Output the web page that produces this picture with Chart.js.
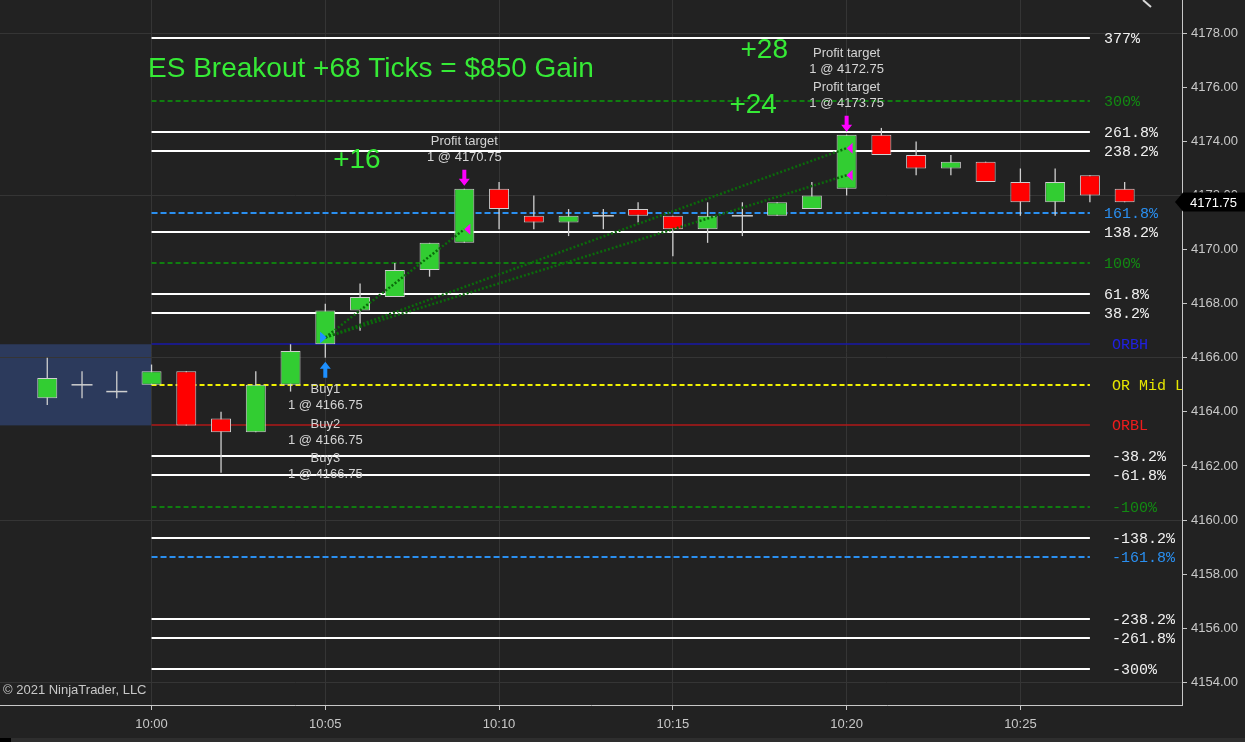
<!DOCTYPE html>
<html>
<head>
<meta charset="utf-8">
<title>ES Breakout</title>
<script src="https://cdn.jsdelivr.net/npm/chart.js@4.4.1/dist/chart.umd.min.js"></script>
<style>
  html, body { margin: 0; padding: 0; background: #222222; overflow: hidden; }
  #wrap { width: 1245px; height: 742px; position: relative; }
</style>
</head>
<body>
<div id="wrap"><canvas id="chart" width="1245" height="742"></canvas></div>
<script>
// 1 minutlik shamlar (9:57 - 10:28)
const times  = ['9:57', '9:58', '9:59', '10:00', '10:01', '10:02', '10:03', '10:04', '10:05', '10:06',
                '10:07', '10:08', '10:09', '10:10', '10:11', '10:12', '10:13', '10:14', '10:15', '10:16',
                '10:17', '10:18', '10:19', '10:20', '10:21', '10:22', '10:23', '10:24', '10:25', '10:26',
                '10:27', '10:28'];
const opens  = [4164.5, 4165, 4164.75, 4165, 4165.5, 4163.75, 4163.25, 4165, 4166.5, 4167.75,
                4168.25, 4169.25, 4170.25, 4172.25, 4171.25, 4171, 4171.25, 4171.5, 4171.25, 4170.75,
                4171.25, 4171.25, 4171.5, 4172.25, 4174.25, 4173.5, 4173, 4173.25, 4172.5, 4171.75,
                4172.75, 4172.25];
const highs  = [4166, 4165.5, 4165.5, 4165.75, 4165.5, 4164, 4165.5, 4166.5, 4168, 4168.75,
                4169.5, 4170.25, 4172.25, 4172.5, 4172, 4171.5, 4171.5, 4171.75, 4171.25, 4171.75,
                4171.75, 4171.75, 4172.5, 4174.25, 4174.5, 4174, 4173.5, 4173.25, 4173, 4173,
                4172.75, 4172.5];
const lows   = [4164.25, 4164.5, 4164.5, 4165, 4163.5, 4161.75, 4163.25, 4164.75, 4166, 4167,
                4168.25, 4169, 4170.25, 4170.75, 4170.75, 4170.5, 4170.75, 4171, 4169.75, 4170.25,
                4170.5, 4171.25, 4171.5, 4172, 4173.5, 4172.75, 4172.75, 4172.5, 4171.25, 4171.25,
                4171.75, 4171.75];
const closes = [4165.25, 4165, 4164.75, 4165.5, 4163.5, 4163.25, 4165, 4166.25, 4167.75, 4168.25,
                4169.25, 4170.25, 4172.25, 4171.5, 4171, 4171.25, 4171.25, 4171.25, 4170.75, 4171.25,
                4171.25, 4171.75, 4172, 4174.25, 4173.5, 4173, 4173.25, 4172.5, 4171.75, 4172.5,
                4172, 4171.75];

// Fibonacci / opening range darajalari
const levelNames  = ['377%', '300%', '261.8%', '238.2%', '161.8%', '138.2%', '100%', '61.8%', '38.2%',
                     'ORBH', 'OR Mid Line', 'ORBL',
                     '-38.2%', '-61.8%', '-100%', '-138.2%', '-161.8%', '-238.2%', '-261.8%', '-300%'];
const levelPrices = [4177.81, 4175.5, 4174.35, 4173.65, 4171.35, 4170.65, 4169.5, 4168.35, 4167.65,
                     4166.5, 4165, 4163.5,
                     4162.35, 4161.65, 4160.5, 4159.35, 4158.65, 4156.35, 4155.65, 4154.5];
const levelFrom = '10:00';
const levelTo   = '10:27';

// Savdolar (kirish va chiqish)
const fillTimes  = ['10:05', '10:05', '10:05', '10:09', '10:20', '10:20'];
const fillPrices = [4166.75, 4166.75, 4166.75, 4170.75, 4172.75, 4173.75];
const fillSides  = ['buy', 'buy', 'buy', 'sell', 'sell', 'sell'];
const fillNames  = ['Buy1', 'Buy2', 'Buy3', 'Profit target', 'Profit target', 'Profit target'];
const tradePairs = [[0, 3], [1, 4], [2, 5]];

// Matnli izohlar
const noteTexts = ['ES Breakout +68 Ticks = $850 Gain', '+16', '+24', '+28'];

// O'qlar
const yTicks = [4154, 4156, 4158, 4160, 4162, 4164, 4166, 4168, 4170, 4172, 4174, 4176, 4178];
const xTickLabels = ['10:00', '10:05', '10:10', '10:15', '10:20', '10:25'];

// vaqtni 10:00 dan boshlab minutga aylantirish
function toMinute(t) {
    const [h, m] = t.split(':').map(Number);
    return (h - 10) * 60 + m;
}
function minuteLabel(v) {
    const total = 600 + Math.round(v);
    return Math.floor(total / 60) + ':' + String(total % 60).padStart(2, '0');
}

const GREEN = '#32cd32';
const RED = '#ff0000';
const EDGE = '#cfcfcf';
const AXIS_TEXT = '#c8c8c8';

const bodyData = [], wickData = [], dojiData = [];
times.forEach((t, i) => {
    const x = toMinute(t);
    wickData.push({ x, y: [lows[i], highs[i]] });
    if (opens[i] === closes[i]) dojiData.push({ x, y: opens[i] });
    else bodyData.push({ x, y: [opens[i], closes[i]], up: closes[i] > opens[i] });
});

// chiziq uslubi nomiga qarab
function levelStyle(name) {
    if (name === '300%' || name === '100%' || name === '-100%')
        return { color: '#0f7d0f', text: '#128a12', width: 2, dash: [5, 3] };
    if (name === '161.8%' || name === '-161.8%')
        return { color: '#2a8ff0', text: '#2a8ff0', width: 2, dash: [6, 3] };
    if (name === 'ORBH') return { color: '#1818a8', text: '#2020e0', width: 1.5, dash: [] };
    if (name === 'OR Mid Line') return { color: '#f0f000', text: '#e6e600', width: 2, dash: [5, 3] };
    if (name === 'ORBL') return { color: '#b01818', text: '#ee1c1c', width: 1.5, dash: [] };
    return { color: '#ffffff', text: '#f0f0f0', width: 2, dash: [] };
}

// eksa o'lchamini qat'iy qilish (chetlardagi qo'shimcha joysiz)
function fixAxis(axis, size) {
    if (axis.isHorizontal()) axis.height = size;
    else axis.width = size;
    axis.paddingTop = 0;
    axis.paddingBottom = 0;
    axis.paddingLeft = 0;
    axis.paddingRight = 0;
}

// Qo'shimcha chizmalar
const overlay = {
    id: 'overlay',
    beforeDraw(chart) {
        const { ctx, chartArea: a, scales: { x, y } } = chart;
        ctx.save();
        // opening range qutisi
        const top = y.getPixelForValue(levelPrices[levelNames.indexOf('ORBH')]);
        const bot = y.getPixelForValue(levelPrices[levelNames.indexOf('ORBL')]);
        ctx.fillStyle = '#2c3a5c';
        ctx.fillRect(a.left, top, x.getPixelForValue(toMinute(levelFrom)) - a.left, bot - top);
        ctx.restore();
    },
    beforeDatasetsDraw(chart) {
        const { ctx, chartArea: a, scales: { x, y } } = chart;
        const x0 = x.getPixelForValue(toMinute(levelFrom));
        const x1 = x.getPixelForValue(toMinute(levelTo));
        ctx.save();
        ctx.beginPath();
        ctx.rect(a.left, a.top, a.right - a.left, a.bottom - a.top);
        ctx.clip();
        levelNames.forEach((name, i) => {
            const s = levelStyle(name);
            const py = Math.round(y.getPixelForValue(levelPrices[i]));
            ctx.strokeStyle = s.color;
            ctx.lineWidth = s.width;
            ctx.setLineDash(s.dash);
            ctx.beginPath();
            ctx.moveTo(x0, py);
            ctx.lineTo(x1, py);
            ctx.stroke();
            ctx.setLineDash([]);
            ctx.fillStyle = s.text;
            ctx.font = '15px "Liberation Mono", "DejaVu Sans Mono", monospace';
            ctx.textAlign = 'left';
            ctx.textBaseline = 'middle';
            const off = /^[0-9]/.test(name) ? 14 : 22;
            ctx.fillText(name, x1 + off, py + 1);
        });
        ctx.restore();
    },
    afterDatasetsDraw(chart) {
        const { ctx, scales: { x, y } } = chart;
        ctx.save();

        // kirish-chiqish nuqtali chiziqlari
        ctx.strokeStyle = '#0b6a0b';
        ctx.lineWidth = 2.5;
        ctx.setLineDash([2, 2]);
        tradePairs.forEach(([a, b]) => {
            ctx.beginPath();
            ctx.moveTo(x.getPixelForValue(toMinute(fillTimes[a])), y.getPixelForValue(fillPrices[a]));
            ctx.lineTo(x.getPixelForValue(toMinute(fillTimes[b])), y.getPixelForValue(fillPrices[b]));
            ctx.stroke();
        });
        ctx.setLineDash([]);

        // bajarilish uchburchaklari
        fillTimes.forEach((t, i) => {
            const px = x.getPixelForValue(toMinute(t));
            const py = y.getPixelForValue(fillPrices[i]);
            ctx.beginPath();
            if (fillSides[i] === 'buy') {
                ctx.fillStyle = '#1e90ff';
                ctx.moveTo(px + 1, py);
                ctx.lineTo(px - 5, py - 5.5);
                ctx.lineTo(px - 5, py + 5.5);
            } else {
                ctx.fillStyle = '#ff00ff';
                ctx.moveTo(px, py);
                ctx.lineTo(px + 6, py - 5.5);
                ctx.lineTo(px + 6, py + 5.5);
            }
            ctx.closePath();
            ctx.fill();
        });

        // o'qlar va yozuvlar har bir vaqt uchun
        const groups = {};
        fillTimes.forEach((t, i) => {
            const k = t + fillSides[i];
            (groups[k] = groups[k] || []).push(i);
        });
        ctx.font = '13px "Liberation Sans", Arial, sans-serif';
        ctx.textAlign = 'center';
        ctx.textBaseline = 'middle';
        Object.values(groups).forEach(list => {
            const first = list[0];
            const bar = times.indexOf(fillTimes[first]);
            const px = x.getPixelForValue(toMinute(fillTimes[first]));
            if (fillSides[first] === 'buy') {
                const top = y.getPixelForValue(lows[bar]) + 4;
                drawArrow(ctx, px, top, 16, 1, '#1e90ff');
                list.forEach((idx, n) => {
                    const ty = top + 28 + n * 34.5;
                    ctx.fillStyle = '#d4d4d4';
                    ctx.fillText(fillNames[idx], px, ty);
                    ctx.fillText('1 @ ' + fillPrices[idx].toFixed(2), px, ty + 16);
                });
            } else {
                const bottom = y.getPixelForValue(highs[bar]) - 3;
                drawArrow(ctx, px, bottom, 16, -1, '#ff00ff');
                const sorted = list.slice().sort((p, q) => fillPrices[q] - fillPrices[p]);
                sorted.forEach((idx, n) => {
                    const ty = bottom - 28 - n * 34.5;
                    ctx.fillStyle = '#d4d4d4';
                    ctx.fillText('1 @ ' + fillPrices[idx].toFixed(2), px, ty);
                    ctx.fillText(fillNames[idx], px, ty - 16);
                });
            }
        });

        // sarlavha va tik yozuvlari
        const notes = [
            { text: noteTexts[0], x: -0.1, y: 4176.68, align: 'left' },
            { text: noteTexts[1], x: 5.91, y: 4173.31, align: 'center' },
            { text: noteTexts[2], x: 17.31, y: 4175.35, align: 'center' },
            { text: noteTexts[3], x: 17.63, y: 4177.38, align: 'center' }
        ];
        ctx.font = '28px "Liberation Sans", Arial, sans-serif';
        ctx.fillStyle = '#36ea36';
        notes.forEach(n => {
            ctx.textAlign = n.align;
            ctx.fillText(n.text, x.getPixelForValue(n.x), y.getPixelForValue(n.y));
        });
        ctx.restore();
    },
    afterDraw(chart) {
        const { ctx, chartArea: a, scales: { y } } = chart;
        ctx.save();
        // oxirgi narx belgisi
        const last = closes[closes.length - 1];
        const py = Math.round(y.getPixelForValue(last));
        ctx.fillStyle = '#000000';
        ctx.beginPath();
        ctx.moveTo(a.right - 7, py);
        ctx.lineTo(a.right + 1, py - 9.5);
        ctx.lineTo(chart.width, py - 9.5);
        ctx.lineTo(chart.width, py + 9.5);
        ctx.lineTo(a.right + 1, py + 9.5);
        ctx.closePath();
        ctx.fill();
        ctx.fillStyle = '#ffffff';
        ctx.font = '13px "Liberation Sans", Arial, sans-serif';
        ctx.textAlign = 'left';
        ctx.textBaseline = 'middle';
        ctx.fillText(last.toFixed(2), a.right + 8, py + 1);

        // mualliflik yozuvi
        ctx.fillStyle = AXIS_TEXT;
        ctx.fillText('\u00a9 2021 NinjaTrader, LLC', 3, a.bottom - 15);

        // yuqori o'ng burchakdagi belgi
        ctx.strokeStyle = '#d8d8d8';
        ctx.lineWidth = 2;
        ctx.beginPath();
        ctx.moveTo(1143, 0);
        ctx.lineTo(1151, 7);
        ctx.stroke();

        // pastki aylantirish chizig'i
        ctx.fillStyle = '#2e2e2e';
        ctx.fillRect(0, chart.height - 4, chart.width, 4);
        ctx.fillStyle = '#000000';
        ctx.fillRect(0, chart.height - 4, 11, 4);
        ctx.restore();
    }
};

function drawArrow(ctx, px, tip, len, dir, color) {
    // dir = 1 yuqoriga qaragan o'q, dir = -1 pastga qaragan o'q
    ctx.fillStyle = color;
    const tail = tip + dir * len;
    const head = 7;
    ctx.beginPath();
    ctx.moveTo(px, tip);
    ctx.lineTo(px - 5.5, tip + dir * head);
    ctx.lineTo(px - 2, tip + dir * head);
    ctx.lineTo(px - 2, tail);
    ctx.lineTo(px + 2, tail);
    ctx.lineTo(px + 2, tip + dir * head);
    ctx.lineTo(px + 5.5, tip + dir * head);
    ctx.closePath();
    ctx.fill();
}

const ctx = document.getElementById('chart').getContext('2d');

const chart = new Chart(ctx, {
    type: 'bar',
    data: {
        datasets: [
            {
                label: 'Body',
                data: bodyData,
                grouped: false,
                order: 0,
                barThickness: 20,
                borderWidth: 1,
                borderColor: EDGE,
                borderSkipped: false,
                inflateAmount: 0,
                backgroundColor: c => (c.raw && c.raw.up ? GREEN : RED)
            },
            {
                type: 'scatter',
                label: 'Doji',
                data: dojiData,
                order: 1,
                pointStyle: 'line',
                pointRadius: 10.5,
                borderWidth: 1.5,
                borderColor: EDGE,
                pointHoverRadius: 10.5
            },
            {
                label: 'Wick',
                data: wickData,
                grouped: false,
                order: 2,
                barThickness: 1.3,
                inflateAmount: 0,
                borderWidth: 0,
                backgroundColor: EDGE
            }
        ]
    },
    options: {
        responsive: false,
        animation: false,
        maintainAspectRatio: false,
        layout: { padding: 0, autoPadding: false },
        plugins: {
            legend: { display: false },
            tooltip: { enabled: false },
            title: { display: false }
        },
        scales: {
            x: {
                type: 'linear',
                offset: false,
                min: -4.36,
                max: 29.65,
                afterBuildTicks: axis => {
                    axis.ticks = xTickLabels.map(t => ({ value: toMinute(t) }));
                },
                afterFit: axis => fixAxis(axis, 37),
                ticks: {
                    color: AXIS_TEXT,
                    font: { family: '"Liberation Sans", Arial, sans-serif', size: 13 },
                    padding: 7,
                    maxRotation: 0,
                    callback: v => minuteLabel(v)
                },
                grid: {
                    offset: false,
                    color: '#353535',
                    tickColor: AXIS_TEXT,
                    tickLength: 5,
                    lineWidth: 1
                },
                border: { display: true, color: AXIS_TEXT, width: 1 }
            },
            y: {
                position: 'right',
                min: 4153.16,
                max: 4179.23,
                afterBuildTicks: axis => {
                    axis.ticks = yTicks.map(v => ({ value: v }));
                },
                afterFit: axis => fixAxis(axis, 63),
                ticks: {
                    color: AXIS_TEXT,
                    font: { family: '"Liberation Sans", Arial, sans-serif', size: 13 },
                    padding: 4,
                    callback: v => Number(v).toFixed(2)
                },
                grid: {
                    color: c => ((c.tick && (c.tick.value - 4154) % 6 === 0) ? '#353535' : 'rgba(0,0,0,0)'),
                    tickColor: AXIS_TEXT,
                    tickLength: 5,
                    lineWidth: 1
                },
                border: { display: true, color: AXIS_TEXT, width: 1 }
            }
        }
    },
    plugins: [overlay]
});
</script>
</body>
</html>
